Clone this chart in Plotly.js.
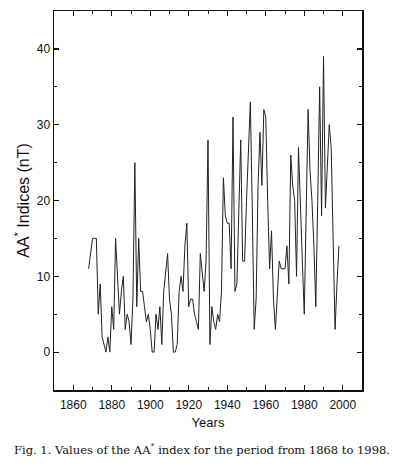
<!DOCTYPE html>
<html>
<head>
<meta charset="utf-8">
<script src="https://cdn.plot.ly/plotly-3.0.1.min.js"></script>
<style>
html,body{margin:0;padding:0;background:#fff;}
#chart{width:402px;height:469px;}
</style>
</head>
<body>
<div id="chart"></div>
<script>
var startYear = 1868;
var aaValues = [
  11, 13, 15, 15, 15, 5, 9, 2, 1, 0,      // 1868-1877
  2, 0, 6, 3, 15, 10, 5, 8, 10, 3,        // 1878-1887
  5, 4, 1, 7, 25, 6, 15, 8, 8, 6,         // 1888-1897
  4, 5, 3, 0, 0, 5, 3, 6, 1, 8,           // 1898-1907
  11, 13, 7, 5, 0, 0, 1, 8, 10, 8,        // 1908-1917
  14, 17, 6, 7, 7, 5, 4, 3, 13, 10,       // 1918-1927
  8, 12, 28, 1, 6, 4, 3, 5, 4, 8,         // 1928-1937
  23, 18, 17, 17, 11, 31, 8, 9, 20, 28,   // 1938-1947
  12, 12, 20, 28, 33, 19, 3, 7, 22, 29,   // 1948-1957
  22, 32, 31, 20, 11, 16, 7, 3, 8, 12,    // 1958-1967
  11, 11, 11, 14, 9, 26, 22, 20, 10, 27,  // 1968-1977
  18, 12, 5, 20, 32, 24, 20, 14, 6, 20,   // 1978-1987
  35, 18, 39, 19, 24, 30, 27, 15, 3, 9,   // 1988-1997
  14                                      // 1998
];
var years = aaValues.map(function(v, i){ return startYear + i; });
var xTickVals = [1860, 1880, 1900, 1920, 1940, 1960, 1980, 2000];
var yTickVals = [0, 10, 20, 30, 40];

var trace = {
  x: years,
  y: aaValues,
  type: 'scatter',
  mode: 'lines',
  line: {color: '#222', width: 1},
  hoverinfo: 'skip'
};

var axisFont = {family: 'Liberation Sans, Arial, sans-serif', size: 12, color: '#111'};

var layout = {
  width: 402,
  height: 469,
  margin: {l: 54, r: 40, t: 11, b: 79},
  paper_bgcolor: '#fff',
  plot_bgcolor: '#fff',
  showlegend: false,
  xaxis: {
    range: [1850, 2010],
    tickvals: xTickVals,
    ticks: 'inside',
    ticklen: 5,
    tickwidth: 1.2,
    tickcolor: '#111',
    minor: {dtick: 10, tick0: 1850, ticks: 'inside', ticklen: 3, tickwidth: 1, tickcolor: '#111'},
    showline: true,
    linecolor: '#111',
    linewidth: 1.5,
    mirror: 'ticks',
    showgrid: false,
    zeroline: false,
    tickfont: axisFont,
    ticklabelstandoff: 3,
    title: {text: 'Years', font: {family: 'Liberation Sans, Arial, sans-serif', size: 13, color: '#111'}, standoff: 7}
  },
  yaxis: {
    range: [-5, 45],
    tickvals: yTickVals,
    ticks: 'inside',
    ticklen: 5,
    tickwidth: 1.2,
    tickcolor: '#111',
    minor: {dtick: 5, tick0: 0, ticks: 'inside', ticklen: 3, tickwidth: 1, tickcolor: '#111'},
    showline: true,
    linecolor: '#111',
    linewidth: 1.5,
    mirror: 'ticks',
    showgrid: false,
    zeroline: false,
    tickfont: axisFont,
    title: {text: 'AA<sup>*</sup> Indices (nT)', font: {family: 'Liberation Sans, Arial, sans-serif', size: 16, color: '#111'}, standoff: 3}
  },
  annotations: [{
    xref: 'paper', yref: 'paper',
    x: 0.479, y: -0.1557,
    xanchor: 'center', yanchor: 'middle',
    showarrow: false,
    text: 'Fig. 1. Values of the AA<sup>*</sup> index for the period from 1868 to 1998.',
    font: {family: 'DejaVu Serif, Liberation Serif, serif', size: 11.5, color: '#111'}
  }]
};

Plotly.newPlot('chart', [trace], layout, {displayModeBar: false, staticPlot: true});
</script>
</body>
</html>
